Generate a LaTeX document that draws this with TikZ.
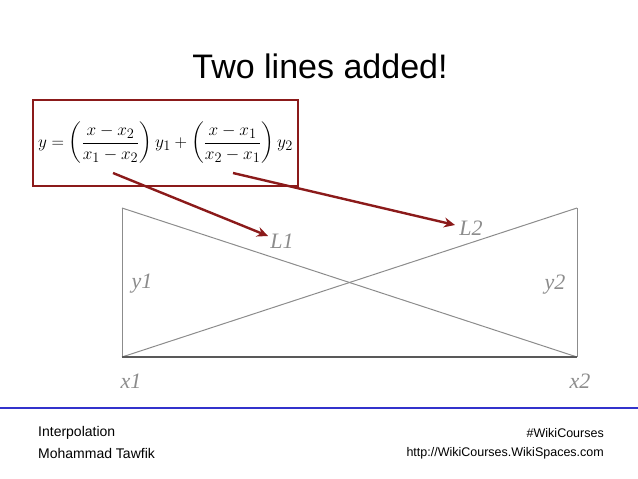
\documentclass[tikz,border=0pt]{standalone}
\usepackage{amsmath}
\usepackage{fontspec}
\setmainfont{Liberation Sans}
\newfontfamily\serifit{Liberation Serif}
\usetikzlibrary{arrows.meta}
\definecolor{dred}{HTML}{8B1A1A}
\definecolor{lgray}{HTML}{8C8C8C}
\definecolor{fblue}{HTML}{3333CC}
\tikzset{
  graph/.style={draw=lgray, line width=1pt},
  lab/.style={text=lgray, font=\serifit\itshape\fontsize{22}{22}\selectfont},
  conn/.style={draw=dred, line width=2.4pt, -{Stealth[length=11pt,width=10pt]}},
  foot/.style={font=\fontsize{14}{16}\selectfont, inner sep=0pt}
}
\begin{document}
\begin{tikzpicture}[x=1pt,y=-1pt]
\useasboundingbox (0,0) rectangle (638,479);
\node (title) at (320,66) {\fontsize{34}{38}\selectfont Two lines added!};
\node[draw=dred, line width=2.8pt, minimum width=265pt, minimum height=86pt, inner sep=0pt] (box) at (165.5,143) {};
\node (eq) at (165.5,143) {\fontsize{19}{22}\selectfont$y=\left(\dfrac{x-x_2}{x_1-x_2}\right)y_1+\left(\dfrac{x-x_1}{x_2-x_1}\right)y_2$};
\coordinate (a1) at (113,173);
\coordinate (a2) at (233,173);
\coordinate (tl) at (122,208);
\coordinate (tr) at (577,208);
\coordinate (bl) at (122,357);
\coordinate (br) at (577,357);
\draw[graph] (tl) -- (bl);
\draw[graph] (tr) -- (br);
\draw[graph] (tl) -- (br);
\draw[graph] (bl) -- (tr);
\draw[draw=gray!70!black, line width=2.5pt] (bl) -- (br);
\node[lab] (L1) at (282,241) {L1};
\node[lab] (L2) at (471,228) {L2};
\node[lab] (y1) at (142,284) {y1};
\node[lab] (y2) at (555,285) {y2};
\node[lab] (x1) at (131,381) {x1};
\node[lab] (x2) at (580,381) {x2};
\draw[conn] (a1) -- (268,236);
\draw[conn] (a2) -- (455,225);
\draw[draw=fblue, line width=2.5pt] (0,408) -- (638,408);
\node[foot, anchor=west] (f1) at (38,433) {Interpolation};
\node[foot, anchor=west] (f2) at (38,453) {Mohammad Tawfik};
\node[foot, anchor=east, font=\fontsize{12.5}{14}\selectfont] (f3) at (604,433) {\#WikiCourses};
\node[foot, anchor=east, font=\fontsize{12.5}{14}\selectfont] (f4) at (604,453) {http://WikiCourses.WikiSpaces.com};
\end{tikzpicture}
\end{document}
